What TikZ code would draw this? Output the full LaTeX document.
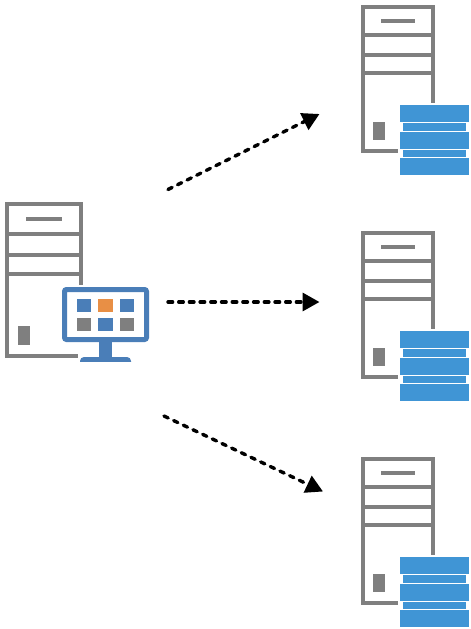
\documentclass[tikz,border=0pt]{standalone}
\usepackage{tikz}
\usetikzlibrary{positioning,arrows.meta}
\definecolor{rackgray}{HTML}{7F7F7F}
\definecolor{screenblue}{HTML}{4A7EB8}
\definecolor{tileorange}{HTML}{E88F45}
\definecolor{dbblue}{HTML}{4095D5}
\tikzset{
    rackline/.style={draw=rackgray, line width=4pt},
    slab/.style={fill=dbblue},
    tile/.style={rectangle, inner sep=0pt, minimum width=14pt, minimum height=13pt, fill=#1},
    sendarrow/.style={line width=3.4pt, line cap=round, dash pattern=on 4.6pt off 6.1pt,
        -{Triangle[length=17pt, width=18pt]}},
    pics/rack/.style={code={
        \draw[rackline] (0,0) rectangle (70,144);
        \coordinate (-case) at (35,72);
        \draw[rackline] (0,28) -- (70,28);
        \draw[rackline] (0,48) -- (70,48);
        \draw[rackline] (0,66) -- (70,66);
        \draw[rackline] (18,14) -- (52,14);
        \fill[rackgray] (10,115) rectangle (22,133);
    }},
    pics/dbstack/.style={code={
        \fill[white] (-2,-2) rectangle (71,72);
        \path[slab] (0,0) rectangle (69,17);
        \path[slab] (3,18) rectangle (66,25.5);
        \path[slab] (0,26.5) rectangle (69,43.5);
        \path[slab] (3,44.5) rectangle (66,52);
        \path[slab] (0,53) rectangle (69,70);
    }},
}
\begin{document}
\begin{tikzpicture}[x=1pt, y=-1pt]
    \useasboundingbox (0,0) rectangle (471,629);

    % sending machine
    \pic[scale=1.057] (sender) at (7,204) {rack};
    \fill[white] (60,285) rectangle (151,344);
    \fill[white] (78,344) rectangle (133,364);
    \node[rectangle, rounded corners=2pt, draw=screenblue, line width=5pt, inner sep=0pt,
          outer sep=0pt, minimum width=82pt, minimum height=50pt] (screen) at (105.5,314.5) {};
    \node[tile=screenblue] (tilea) at (84,305) {};
    \node[tile=tileorange, minimum width=15pt] (tileb) at (105.5,305) {};
    \node[tile=screenblue] (tilec) at (127,305) {};
    \node[tile=rackgray] (tiled) at (84,324.5) {};
    \node[tile=screenblue, minimum width=15pt] (tilee) at (105.5,324.5) {};
    \node[tile=rackgray] (tilef) at (127,324.5) {};
    \fill[screenblue] (99,342) rectangle (112,358);
    \fill[screenblue, rounded corners=4pt] (80,366) -- (80,357) -- (131,357) -- (131,366) -- cycle;
    \fill[white] (78,362) rectangle (133,368);

    % receiving machines
    \pic (rackA) at (363,7) {rack};
    \pic at (400,105) {dbstack};
    \pic (rackB) at (363,233) {rack};
    \pic at (400,331) {dbstack};
    \pic (rackC) at (363,459) {rack};
    \pic at (400,557) {dbstack};

    % arrows
    \coordinate (startA) at (168,189.5);
    \coordinate (tipA) at (319.5,114);
    \coordinate (startB) at (168,302);
    \coordinate (tipB) at (319.5,302);
    \coordinate (startC) at (164,416);
    \coordinate (tipC) at (323,491.5);
    \draw[sendarrow] (startA) -- (tipA);
    \draw[sendarrow] (startB) -- (tipB);
    \draw[sendarrow] (startC) -- (tipC);
\end{tikzpicture}
\end{document}
